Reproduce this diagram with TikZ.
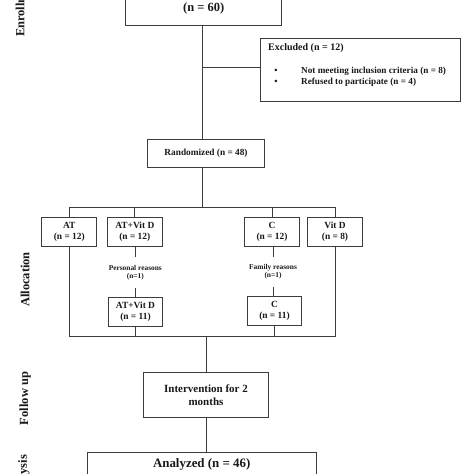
\documentclass[tikz,border=0pt]{standalone}
\usepackage{fontspec}
\setmainfont{Liberation Serif}
\definecolor{linec}{RGB}{60,60,60}
\definecolor{txtc}{RGB}{25,25,25}
\begin{document}
\begin{tikzpicture}[x=1pt,y=-1pt,
  conn/.style={draw=linec, line width=0.9pt},
  box/.style={draw=linec, line width=0.9pt, fill=white, inner sep=0pt, align=center, text=txtc,
              font=\bfseries\fontsize{9.4}{11}\selectfont},
  plain/.style={inner sep=0pt, text=txtc, align=center},
  side/.style={inner sep=0pt, text=txtc, rotate=90, font=\bfseries\fontsize{12.5}{14}\selectfont},
  reason/.style={inner sep=0pt, text=txtc, align=center, font=\bfseries\fontsize{7.4}{8.4}\selectfont}
]
\useasboundingbox (0,0) rectangle (474,474);
\clip (0,0) rectangle (474,474);

% side labels
\node[side] (lenrol) at (20,6.5) {Enrollment};
\node[side] (lalloc) at (25,279.5) {Allocation};
\node[side] (lfollow) at (25,398.5) {Follow up};
\node[side] (lanal) at (24,477.5) {Analysis};

% enrolment
\node[box, minimum width=156pt, minimum height=80pt] (enrol) at (203.7,-15) {};
\node[plain, font=\bfseries\fontsize{12.5}{14}\selectfont] (n60) at (203.7,8) {(n = 60)};

% excluded
\node[box, minimum width=199.3pt, minimum height=63pt] (excl) at (360.3,70.2) {};
\node[plain, anchor=west, font=\bfseries\fontsize{10}{12}\selectfont] (exT) at (268,48) {Excluded (n = 12)};
\node[plain, font=\bfseries\fontsize{9.2}{11}\selectfont] (b1) at (276,71.3) {•};
\node[plain, font=\bfseries\fontsize{9.2}{11}\selectfont] (b2) at (276,82.7) {•};
\node[plain, anchor=west, font=\bfseries\fontsize{9.2}{11}\selectfont] (l1) at (301,71.3) {Not meeting inclusion criteria (n = 8)};
\node[plain, anchor=west, font=\bfseries\fontsize{9.2}{11}\selectfont] (l2) at (301,82.7) {Refused to participate (n = 4)};

% randomized
\node[box, minimum width=116.6pt, minimum height=28.7pt, font=\bfseries\fontsize{9.3}{11}\selectfont] (rand) at (206,153.3) {Randomized (n = 48)};

% groups
\node[box, minimum width=55pt, minimum height=29pt] (at) at (69.3,232) {AT\\(n = 12)};
\node[box, minimum width=55pt, minimum height=29pt] (atv) at (134.8,232) {AT+Vit D\\(n = 12)};
\node[box, minimum width=54.5pt, minimum height=29pt] (cg) at (272,232) {C\\(n = 12)};
\node[box, minimum width=54.5pt, minimum height=29pt] (vd) at (335,232) {Vit D\\(n = 8)};

% reasons
\node[reason, minimum height=30pt] (pr) at (135.3,272.5) {Personal reasons\\(n=1)};
\node[reason, minimum height=29.7pt] (fr) at (273,272) {Family reasons\\(n=1)};

% after dropout
\node[box, minimum width=54.4pt, minimum height=28.7pt] (atv2) at (135.5,311.7) {AT+Vit D\\(n = 11)};
\node[box, minimum width=54.4pt, minimum height=28.6pt] (cg2) at (274.5,311) {C\\(n = 11)};

% intervention
\node[box, minimum width=124.6pt, minimum height=45.4pt, font=\bfseries\fontsize{11}{13}\selectfont] (int) at (206,395) {Intervention for 2\\months};

% analyzed
\node[box, minimum width=228.7pt, minimum height=48pt] (ana) at (201.7,476) {};
\node[plain, font=\bfseries\fontsize{12.9}{15}\selectfont] (anT) at (201.7,464.3) {Analyzed (n = 46)};

% connectors
\coordinate (jx) at (202.3,67.7);
\coordinate (ybar) at (0,207.7);
\coordinate (ybot) at (0,336);
\draw[conn] (enrol.south -| jx) -- (jx |- rand.north);
\draw[conn] (jx) -- (jx -| excl.west);
\draw[conn] (rand.south -| jx) -- (jx |- ybar);
\draw[conn] (at.north) -- (at.north |- ybar) -- (vd.north |- ybar) -- (vd.north);
\draw[conn] (atv.north) -- (atv.north |- ybar);
\draw[conn] (cg.north) -- (cg.north |- ybar);
\draw[conn] (atv.south -| pr.north) -- (pr.north);
\draw[conn] (pr.south) -- (pr.south |- atv2.north);
\draw[conn] (cg.south -| fr.north) -- (fr.north);
\draw[conn] (fr.south) -- (fr.south |- cg2.north);
\draw[conn] (at.south) -- (at.south |- ybot) -- (vd.south |- ybot) -- (vd.south);
\draw[conn] (atv2.south) -- (atv2.south |- ybot);
\draw[conn] (cg2.south) -- (cg2.south |- ybot);
\draw[conn] (int.north |- ybot) -- (int.north);
\draw[conn] (int.south) -- (int.south |- ana.north);
\end{tikzpicture}
\end{document}
